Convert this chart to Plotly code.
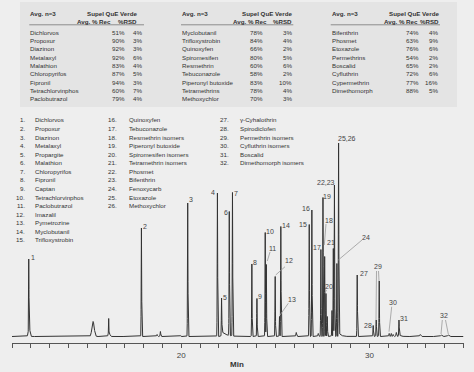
import numpy as np
import plotly.graph_objects as go

W, H = 474, 372
FONT = "Liberation Sans, Arial, sans-serif"

# ---------------- recovery tables ----------------
t1_names = ["Dichlorvos", "Propoxur", "Diazinon", "Metalaxyl", "Malathion",
            "Chloropyrifos", "Fipronil", "Tetrachlorvinphos", "Paclobutrazol"]
t1_rec = ["51%", "90%", "92%", "92%", "83%", "87%", "94%", "60%", "79%"]
t1_rsd = ["4%", "3%", "3%", "6%", "4%", "5%", "3%", "7%", "4%"]

t2_names = ["Myclobutanil", "Trifloxystrobin", "Quinoxyfen", "Spiromesifen", "Resmethrin",
            "Tebuconazole", "Piperonyl butoxide", "Tetramethrins", "Methoxychlor"]
t2_rec = ["78%", "84%", "66%", "80%", "60%", "58%", "83%", "78%", "70%"]
t2_rsd = ["3%", "4%", "2%", "5%", "6%", "2%", "10%", "4%", "3%"]

t3_names = ["Bifenthrin", "Phosmet", "Etoxazole", "Permethrins", "Boscalid",
            "Cyfluthrin", "Cypermethrin", "Dimethomorph"]
t3_rec = ["74%", "63%", "76%", "54%", "65%", "72%", "77%", "88%"]
t3_rsd = ["4%", "9%", "6%", "2%", "2%", "6%", "16%", "5%"]

# ---------------- compound key ----------------
compounds = ["Dichlorvos", "Propoxur", "Diazinon", "Metalaxyl", "Propargite", "Malathion",
             "Chloropyrifos", "Fipronil", "Captan", "Tetrachlorvinphos", "Paclobutrazol",
             "Imazalil", "Pymetrozine", "Myclobutanil", "Trifloxystrobin", "Quinoxyfen",
             "Tebuconazole", "Resmethrin isomers", "Piperonyl butoxide", "Spiromesifen isomers",
             "Tetramethrin isomers", "Phosmet", "Bifenthrin", "Fenoxycarb", "Etoxazole",
             "Methoxychlor", "γ-Cyhalothrin", "Spirodiclofen", "Permethrin isomers",
             "Cyfluthrin isomers", "Boscalid", "Dimethomorph isomers"]

# ---------------- chromatogram peaks (retention time, min / height, signal units) ----------------
peak_times = [11.89, 11.91, 15.31, 16.14, 16.16, 17.88, 18.71, 18.89, 19.94, 20.34,
              21.92, 22.14, 22.55, 22.72, 23.75, 24.02, 24.46, 24.52, 24.99, 25.22,
              25.29, 26.11, 26.80, 26.94, 27.28, 27.42, 27.53, 27.62, 27.69, 27.76,
              28.01, 28.08, 28.14, 28.27, 28.36, 29.35, 30.20, 30.36, 30.52,
              31.05, 31.16, 31.26, 31.43, 31.57, 32.70, 33.82, 34.19]
peak_heights = [77.5, 10, 15, 18, 4, 108.5, 2, 5, 1, 133.5,
                143.5, 38.5, 124, 143.5, 72.5, 38, 104, 72, 60, 20,
                110, 4, 112, 126.5, 3, 87, 139, 80, 43, 20,
                26, 88, 151.5, 73, 193.5, 61.5, 11, 16.5, 55.5,
                3, 3, 2, 4, 16.5, 2, 1.5, 1.5]
peak_widths = [0.012, 0.04, 0.06, 0.012, 0.04, 0.012, 0.02, 0.015, 0.02, 0.012,
               0.012, 0.012, 0.012, 0.012, 0.012, 0.012, 0.012, 0.012, 0.012, 0.012,
               0.012, 0.02, 0.012, 0.012, 0.02, 0.012, 0.012, 0.012, 0.012, 0.012,
               0.012, 0.012, 0.012, 0.012, 0.012, 0.012, 0.012, 0.012, 0.012,
               0.02, 0.02, 0.02, 0.02, 0.012, 0.03, 0.04, 0.04]
# exponential tails after some peaks
tail_times = [22.15, 28.37, 31.58]
tail_amps = [5, 4, 2]
tail_decay = [0.25, 0.12, 0.08]

t = np.arange(11.0, 35.0, 0.002)
sig = np.zeros_like(t)
for t0, h, w in zip(peak_times, peak_heights, peak_widths):
    sig = np.maximum(sig, h * np.exp(-0.5 * ((t - t0) / w) ** 2))
for t0, a, tau in zip(tail_times, tail_amps, tail_decay):
    sig = sig + np.where(t > t0, a * np.exp(-np.clip(t - t0, 0, None) / tau), 0)

# ---------------- figure ----------------
fig = go.Figure()
fig.add_trace(go.Scatter(x=t, y=sig, mode="lines",
                         line=dict(color="#333333", width=1), hoverinfo="skip"))

ticks = list(range(11, 36))
ticktext = [str(v) if v in (20, 30) else "" for v in ticks]


def px(x):
    return x / W


def py(y):
    return 1 - y / H


ann = []
shapes = []


def txt(x, y, s, anchor="left", size=6.2, bold=False, color="#333333"):
    ann.append(dict(x=px(x), y=py(y), xref="paper", yref="paper",
                    text=f"<b>{s}</b>" if bold else s, showarrow=False,
                    xanchor=anchor, yanchor="middle", borderpad=0,
                    font=dict(size=size, color=color, family=FONT)))


def line(x0, y0, x1, y1, color="#999999", width=0.8):
    shapes.append(dict(type="line", xref="paper", yref="paper",
                       x0=px(x0), y0=py(y0), x1=px(x1), y1=py(y1),
                       line=dict(color=color, width=width)))


# table band
shapes.append(dict(type="rect", xref="paper", yref="paper", x0=px(20), x1=px(457),
                   y0=py(107), y1=py(2), fillcolor="#e4e4e4", line=dict(width=0),
                   layer="below"))

tables = [
    (t1_names, t1_rec, t1_rsd, 29.3, 137.7, 111.7, 126, 143.3, 144),
    (t2_names, t2_rec, t2_rsd, 181, 292.7, 267.7, 264, 293.3, 293.3),
    (t3_names, t3_rec, t3_rsd, 330.7, 440, 418.5, 420, 439, 440),
]
for names, rec, rsd, xl, sup_r, rec_hr, rec_r, rsd_r, line_r in tables:
    txt(xl, 13.7, "Avg. n=3", bold=True)
    txt(sup_r, 13.7, "Supel QuE Verde", anchor="right", bold=True)
    txt(rec_hr, 21.3, "Avg. % Rec", anchor="right", bold=True)
    txt(sup_r, 21.3, "%RSD", anchor="right", bold=True)
    line(xl, 24.8, line_r, 24.8, color="#8c8c8c", width=1)
    for i, (n, r, s) in enumerate(zip(names, rec, rsd)):
        y = 32.3 + i * 8.33
        txt(xl, y, n)
        txt(rec_r, y, r, anchor="right")
        txt(rsd_r, y, s, anchor="right")

# compound key
cols = [(0, 15, 26, 34), (15, 26, 118, 128), (26, 32, 230, 239)]
for a, b, xn, xname in cols:
    for k, i in enumerate(range(a, b)):
        y = 120 + k * 8.57
        txt(xn, y, f"{i + 1}.", anchor="right")
        txt(xname, y, compounds[i])

# peak labels
peak_labels = ["1", "2", "3", "4", "5", "6", "7", "8", "9", "10", "11", "12", "13", "14",
               "15", "16", "17", "18", "19", "20", "21", "22,23", "24", "25,26", "27",
               "28", "29", "30", "31", "32"]
label_pos = [(32.5, 257), (144.5, 226), (191, 199), (213, 192.5), (224.5, 297),
             (226, 212), (235.5, 193), (255, 262), (260, 296), (270, 231),
             (272.5, 248), (289, 260), (292, 299.3), (286, 225), (303.3, 224),
             (306, 209), (317.3, 247.3), (328.5, 220), (327, 196), (328.5, 286),
             (331, 242.3), (326, 182), (366, 237), (347, 138), (363.5, 273.3),
             (367.5, 325), (377.5, 266.5), (392.7, 302.3), (404.3, 318.3), (444, 315)]
for s, (x, y) in zip(peak_labels, label_pos):
    txt(x, y, s, anchor="center", size=7, color="#444444")

# leader lines
for seg in [((267.3, 261), (270, 252)), ((275.7, 275), (285, 266.7)),
            ((280, 315), (288.3, 303.3)), ((324.3, 245), (326, 224)),
            ((325, 293), (326.5, 290)), ((338.3, 260), (362, 240)),
            ((376, 320), (376.5, 271)), ((379, 281), (378.5, 271)),
            ((389, 331.7), (391.7, 306.7)), ((441, 334), (442.3, 320)),
            ((448.3, 334), (445.5, 320))]:
    line(seg[0][0], seg[0][1], seg[1][0], seg[1][1])

txt(237, 364, "Min", anchor="center", size=8, bold=True, color="#333333")

fig.update_layout(
    width=W, height=H,
    margin=dict(l=0, r=0, t=0, b=0, autoexpand=False),
    paper_bgcolor="#eeeeee", plot_bgcolor="rgba(0,0,0,0)",
    showlegend=False, hovermode=False,
    annotations=ann, shapes=shapes,
    xaxis=dict(domain=[12 / W, 463.5 / W], range=[11, 35],
               tickvals=ticks, ticktext=ticktext, ticks="outside", ticklen=4,
               tickwidth=1, tickcolor="#555555", showline=True, linecolor="#555555",
               linewidth=1, showgrid=False, zeroline=False,
               tickfont=dict(size=8, color="#444444", family=FONT)),
    yaxis=dict(domain=[(H - 343) / H, (H - 110) / H], range=[-6.5, 226.5],
               visible=False, showgrid=False, zeroline=False),
)

fig.write_html("out.html",
               config={"displayModeBar": False, "staticPlot": True},
               post_script="document.body.style.margin='0';"
                           "document.body.style.background='#eeeeee';"
                           "document.body.style.overflow='hidden';")
